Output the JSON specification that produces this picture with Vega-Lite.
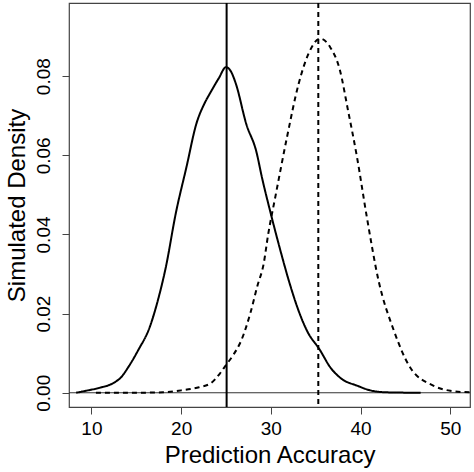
{
  "$schema": "https://vega.github.io/schema/vega-lite/v6.json",
  "description": "Simulated density of prediction accuracy, observed vs null",
  "background": "white",
  "autosize": "none",
  "width": 401,
  "height": 404,
  "padding": {"left": 69, "top": 3, "right": 4, "bottom": 65},
  "datasets": {
    "curves": [
      {"x": 8.3, "density": 0.0, "series": "obs"},
      {"x": 9.6, "density": 0.0006, "series": "obs"},
      {"x": 11.0, "density": 0.0013, "series": "obs"},
      {"x": 12.4, "density": 0.0024, "series": "obs"},
      {"x": 13.3, "density": 0.0039, "series": "obs"},
      {"x": 14.2, "density": 0.0068, "series": "obs"},
      {"x": 15.2, "density": 0.0107, "series": "obs"},
      {"x": 16.5, "density": 0.0166, "series": "obs"},
      {"x": 17.4, "density": 0.0233, "series": "obs"},
      {"x": 18.3, "density": 0.0318, "series": "obs"},
      {"x": 19.4, "density": 0.0453, "series": "obs"},
      {"x": 20.6, "density": 0.0571, "series": "obs"},
      {"x": 21.7, "density": 0.068, "series": "obs"},
      {"x": 22.6, "density": 0.0731, "series": "obs"},
      {"x": 23.3, "density": 0.076, "series": "obs"},
      {"x": 24.2, "density": 0.0795, "series": "obs"},
      {"x": 25.0, "density": 0.0823, "series": "obs"},
      {"x": 25.6, "density": 0.081, "series": "obs"},
      {"x": 26.1, "density": 0.0781, "series": "obs"},
      {"x": 27.25, "density": 0.068, "series": "obs"},
      {"x": 28.4, "density": 0.0608, "series": "obs"},
      {"x": 29.0, "density": 0.0545, "series": "obs"},
      {"x": 29.9, "density": 0.0461, "series": "obs"},
      {"x": 31.0, "density": 0.0365, "series": "obs"},
      {"x": 32.1, "density": 0.0276, "series": "obs"},
      {"x": 33.0, "density": 0.0213, "series": "obs"},
      {"x": 34.0, "density": 0.0158, "series": "obs"},
      {"x": 35.5, "density": 0.0107, "series": "obs"},
      {"x": 36.6, "density": 0.0065, "series": "obs"},
      {"x": 37.9, "density": 0.0035, "series": "obs"},
      {"x": 39.6, "density": 0.0018, "series": "obs"},
      {"x": 41.1, "density": 0.0006, "series": "obs"},
      {"x": 43.0, "density": 0.0001, "series": "obs"},
      {"x": 46.7, "density": 0.0, "series": "obs"},
      {"x": 10.5, "density": 0.0, "series": "null"},
      {"x": 14.0, "density": 0.0, "series": "null"},
      {"x": 18.0, "density": 0.0001, "series": "null"},
      {"x": 20.0, "density": 0.0006, "series": "null"},
      {"x": 22.0, "density": 0.0014, "series": "null"},
      {"x": 23.3, "density": 0.0024, "series": "null"},
      {"x": 24.3, "density": 0.0048, "series": "null"},
      {"x": 25.0, "density": 0.007, "series": "null"},
      {"x": 25.8, "density": 0.0095, "series": "null"},
      {"x": 26.7, "density": 0.0132, "series": "null"},
      {"x": 27.7, "density": 0.02, "series": "null"},
      {"x": 28.5, "density": 0.027, "series": "null"},
      {"x": 29.2, "density": 0.0326, "series": "null"},
      {"x": 29.7, "density": 0.04, "series": "null"},
      {"x": 30.5, "density": 0.0495, "series": "null"},
      {"x": 31.8, "density": 0.0646, "series": "null"},
      {"x": 33.1, "density": 0.0781, "series": "null"},
      {"x": 34.2, "density": 0.0857, "series": "null"},
      {"x": 35.5, "density": 0.0895, "series": "null"},
      {"x": 36.6, "density": 0.0874, "series": "null"},
      {"x": 37.7, "density": 0.0815, "series": "null"},
      {"x": 38.6, "density": 0.0714, "series": "null"},
      {"x": 39.6, "density": 0.0596, "series": "null"},
      {"x": 40.7, "density": 0.0444, "series": "null"},
      {"x": 42.0, "density": 0.0284, "series": "null"},
      {"x": 43.7, "density": 0.0158, "series": "null"},
      {"x": 45.5, "density": 0.0065, "series": "null"},
      {"x": 48.1, "density": 0.0018, "series": "null"},
      {"x": 50.0, "density": 0.0005, "series": "null"},
      {"x": 52.2, "density": 0.0001, "series": "null"}
    ],
    "markers": [
      {"x": 25.07, "series": "obs"},
      {"x": 35.29, "series": "null"}
    ]
  },
  "layer": [
    {
      "data": {"values": [{"density": 0}]},
      "mark": {"type": "rule", "color": "#333333", "strokeWidth": 1},
      "encoding": {
        "y": {"field": "density", "type": "quantitative"}
      }
    },
    {
      "data": {"name": "markers"},
      "mark": {"type": "rule", "color": "black", "strokeWidth": 2},
      "encoding": {
        "x": {"field": "x", "type": "quantitative"},
        "strokeDash": {"field": "series", "type": "nominal", "legend": null,
          "scale": {"domain": ["obs", "null"], "range": [[1, 0], [5, 4]]}}
      }
    },
    {
      "data": {"name": "curves"},
      "mark": {"type": "line", "color": "black", "strokeWidth": 2, "interpolate": "monotone", "clip": true},
      "encoding": {
        "x": {"field": "x", "type": "quantitative",
          "scale": {"domain": [7.5, 52.2], "nice": false, "zero": false},
          "axis": {"title": "Prediction Accuracy", "values": [10, 20, 30, 40, 50]}},
        "y": {"field": "density", "type": "quantitative",
          "scale": {"domain": [-0.0036, 0.0985], "nice": false, "zero": false},
          "axis": {"title": "Simulated Density", "values": [0, 0.02, 0.04, 0.06, 0.08], "format": ".2f",
            "labelAngle": -90, "labelAlign": "center", "labelBaseline": "bottom", "labelPadding": 9}},
        "strokeDash": {"field": "series", "type": "nominal", "legend": null,
          "scale": {"domain": ["obs", "null"], "range": [[1, 0], [5, 4]]}},
        "detail": {"field": "series"}
      }
    }
  ],
  "config": {
    "view": {"stroke": "#444444", "strokeWidth": 1.2},
    "font": "Liberation Sans",
    "axis": {
      "grid": false,
      "domain": false,
      "tickColor": "#444444",
      "tickSize": 7,
      "tickWidth": 1,
      "labelFont": "Liberation Sans",
      "labelFontSize": 19,
      "labelColor": "black",
      "titleFont": "Liberation Sans",
      "titleFontSize": 24,
      "titleFontWeight": "normal",
      "titleColor": "black"
    },
    "axisX": {"labelPadding": 5, "titlePadding": 5},
    "axisY": {"titlePadding": 5}
  }
}
